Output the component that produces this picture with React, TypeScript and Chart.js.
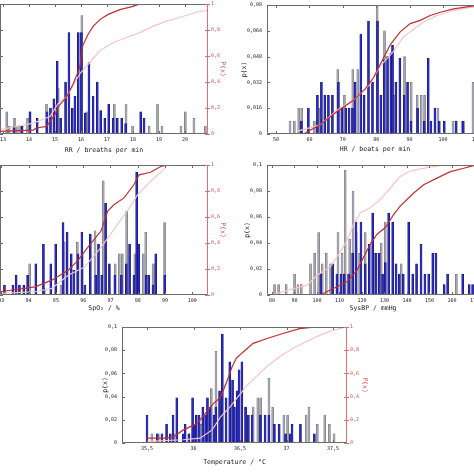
import React, { useEffect, useRef } from 'react';
import { Chart, registerables } from 'chart.js';

Chart.register(...registerables);

type Pt = [number, number];

// ---------- shared ticks ----------
const P_TICKS = [0, 0.2, 0.4, 0.6, 0.8, 1];

// ---------- RR panel ----------
const RR_X_TICKS = [13, 14, 15, 16, 17, 18, 19, 20];
const RR_Y_TICKS = [0, 0.02, 0.04, 0.06, 0.08, 0.1];
const RR_GRAY: Pt[] = [
  [13.1, 0.017], [13.2, 0.006], [13.4, 0.012], [13.5, 0.006], [13.6, 0.006], [13.9, 0.012],
  [14.0, 0.017], [14.63, 0.023], [14.93, 0.023], [15.08, 0.035], [15.99, 0.091], [16.17, 0.017],
  [17.24, 0.023], [17.69, 0.023], [17.94, 0.006], [18.58, 0.006], [18.9, 0.023], [19.07, 0.006],
  [19.8, 0.006], [19.97, 0.017], [20.3, 0.012], [20.74, 0.006],
];
const RR_BLUE: Pt[] = [
  [13.45, 0.006], [13.77, 0.006], [14.07, 0.017], [14.35, 0.012], [14.73, 0.017], [14.86, 0.02],
  [14.99, 0.027], [15.12, 0.056], [15.25, 0.012], [15.44, 0.04], [15.57, 0.078], [15.7, 0.02],
  [15.8, 0.029], [15.93, 0.078], [16.05, 0.078], [16.2, 0.016], [16.34, 0.055], [16.5, 0.029],
  [16.66, 0.04], [16.79, 0.018], [16.95, 0.012], [17.1, 0.023], [17.27, 0.012], [17.43, 0.012],
  [17.6, 0.012], [17.75, 0.008], [18.33, 0.017], [18.46, 0.012],
];
const RR_CDF_BLUE: Pt[] = [
  [12.87, 0.02], [14.16, 0.03], [14.28, 0.046], [14.67, 0.058], [14.8, 0.096], [14.99, 0.147],
  [15.12, 0.21], [15.44, 0.286], [15.57, 0.337], [15.7, 0.387], [15.95, 0.514], [16.06, 0.678],
  [16.27, 0.767], [16.47, 0.83], [16.72, 0.88], [17.04, 0.92], [17.49, 0.957], [18.0, 0.982],
  [18.26, 1.0], [20.9, 1.0],
];
const RR_CDF_GRAY: Pt[] = [
  [12.87, 0.033], [14.16, 0.084], [14.8, 0.134], [15.12, 0.235], [15.44, 0.286], [15.95, 0.463],
  [16.34, 0.552], [16.72, 0.64], [17.24, 0.704], [17.75, 0.742], [18.26, 0.78], [18.78, 0.83],
  [19.29, 0.868], [19.93, 0.906], [20.57, 0.944], [20.88, 0.95],
];

// ---------- HR panel ----------
const HR_X_TICKS = [50, 60, 70, 80, 90, 100, 110];
const HR_Y_TICKS = [0, 0.016, 0.032, 0.048, 0.064, 0.08];
const HR_GRAY: Pt[] = [
  [53.9, 0.008], [55.2, 0.008], [56.5, 0.016], [57.4, 0.016], [61.2, 0.008], [62.5, 0.016],
  [68.2, 0.04], [70.2, 0.024], [72.7, 0.04], [74.2, 0.04], [80.0, 0.08], [82.2, 0.064],
  [85.0, 0.024], [88.2, 0.048], [90.2, 0.032], [92.0, 0.024], [93.2, 0.024], [94.2, 0.024],
  [98.2, 0.016], [102.7, 0.008], [103.7, 0.008], [105.4, 0.008], [108.7, 0.032],
];
const HR_BLUE: Pt[] = [
  [57.9, 0.008], [60.0, 0.016], [62.7, 0.024], [63.9, 0.032], [64.9, 0.024], [66.0, 0.024],
  [67.2, 0.024], [69.0, 0.032], [70.0, 0.016], [71.2, 0.016], [72.2, 0.016], [73.2, 0.016],
  [74.0, 0.032], [75.7, 0.062], [76.7, 0.024], [78.0, 0.07], [79.2, 0.032], [80.7, 0.07],
  [81.7, 0.024], [82.7, 0.046], [83.7, 0.048], [84.7, 0.05], [85.2, 0.055], [86.2, 0.032],
  [87.4, 0.047], [88.7, 0.024], [89.7, 0.032], [90.7, 0.008], [92.7, 0.016], [94.7, 0.008],
  [95.9, 0.047], [96.7, 0.008], [97.9, 0.016], [99.2, 0.008], [100.7, 0.008], [104.2, 0.008],
  [106.4, 0.008],
];
const HR_CDF_BLUE: Pt[] = [
  [58.2, 0], [63.2, 0.071], [68.2, 0.172], [73.2, 0.261], [76.7, 0.349], [79.2, 0.438],
  [81.2, 0.539], [84.2, 0.691], [87.2, 0.792], [90.2, 0.856], [93.2, 0.881], [96.2, 0.919],
  [99.2, 0.944], [103.2, 0.97], [108.2, 0.99], [112, 1.0],
];
const HR_CDF_GRAY: Pt[] = [
  [56.2, 0.02], [63.2, 0.071], [68.2, 0.185], [73.2, 0.261], [78.2, 0.387], [81.2, 0.527],
  [85.2, 0.64], [88.2, 0.754], [90.2, 0.792], [94.2, 0.868], [98.2, 0.919], [103.2, 0.957],
  [108.2, 0.982], [112, 0.99],
];

// ---------- SpO2 panel ----------
const SPO2_X_TICKS = [93, 94, 95, 96, 97, 98, 99, 100];
const SPO2_Y_TICKS = [0, 0.1, 0.2, 0.3, 0.4, 0.5];
const SPO2_GRAY: Pt[] = [
  [94.0, 0.12], [94.54, 0.025], [95.15, 0.038], [95.27, 0.203], [95.75, 0.203], [95.93, 0.158],
  [96.4, 0.247], [96.7, 0.439], [97.14, 0.12], [97.29, 0.158], [97.4, 0.158], [97.56, 0.323],
  [97.86, 0.158], [98.17, 0.158], [98.26, 0.241], [98.53, 0.12], [98.6, 0.12], [98.95, 0.279],
];
const SPO2_BLUE: Pt[] = [
  [93.15, 0.038], [93.46, 0.038], [93.58, 0.076], [93.7, 0.038], [93.86, 0.038], [94.0, 0.076],
  [94.3, 0.12], [94.58, 0.196], [94.85, 0.12], [95.03, 0.196], [95.3, 0.279], [95.45, 0.241],
  [95.6, 0.158], [95.7, 0.095], [95.85, 0.158], [95.99, 0.241], [96.1, 0.038], [96.3, 0.234],
  [96.5, 0.076], [96.6, 0.196], [96.72, 0.076], [96.86, 0.354], [97.0, 0.12], [97.2, 0.076],
  [97.44, 0.076], [97.62, 0.12], [97.74, 0.196], [97.9, 0.076], [98.0, 0.472], [98.08, 0.196],
  [98.35, 0.076], [98.44, 0.076], [98.6, 0.038], [98.7, 0.158], [99.03, 0.076],
];
const SPO2_CDF_BLUE: Pt[] = [
  [92.95, 0.025], [94.24, 0.063], [94.85, 0.114], [95.45, 0.19], [95.81, 0.266], [96.17, 0.367],
  [96.66, 0.494], [96.9, 0.646], [97.14, 0.696], [97.5, 0.747], [97.86, 0.848], [98.05, 0.924],
  [98.47, 0.944], [98.83, 0.987], [99.07, 1.0],
];
const SPO2_CDF_GRAY: Pt[] = [
  [92.95, 0.013], [94.24, 0.025], [94.85, 0.051], [95.45, 0.152], [96.05, 0.215], [96.66, 0.367],
  [97.26, 0.544], [97.62, 0.646], [98.0, 0.772], [98.47, 0.873], [98.95, 0.962], [99.07, 1.0],
];

// ---------- SysBP panel ----------
const SBP_X_TICKS = [80, 90, 100, 110, 120, 130, 140, 150, 160, 170];
const SBP_Y_TICKS = [0, 0.02, 0.04, 0.06, 0.08, 0.1];
const SBP_GRAY: Pt[] = [
  [80.7, 0.008], [82.5, 0.008], [85.9, 0.008], [89.6, 0.016], [91.1, 0.008], [92.6, 0.008],
  [96.7, 0.024], [98.5, 0.032], [100.3, 0.048], [101.9, 0.024], [103.7, 0.032], [105.6, 0.024],
  [108.9, 0.048], [110.7, 0.032], [112.1, 0.096], [114.1, 0.043], [115.6, 0.08], [117.0, 0.048],
  [118.5, 0.032], [121.0, 0.048], [125.5, 0.032], [128.1, 0.04], [129.9, 0.056], [137.0, 0.024],
  [161.5, 0.016],
];
const SBP_BLUE: Pt[] = [
  [102.2, 0.016], [107.4, 0.024], [109.3, 0.016], [111.1, 0.016], [112.6, 0.016], [114.5, 0.016],
  [116.3, 0.032], [117.8, 0.056], [120.0, 0.056], [121.9, 0.024], [123.7, 0.039], [125.2, 0.063],
  [126.7, 0.032], [128.1, 0.032], [129.6, 0.016], [130.8, 0.025], [132.3, 0.063], [134.1, 0.056],
  [135.6, 0.024], [137.0, 0.016], [138.8, 0.016], [141.2, 0.056], [143.0, 0.016], [144.7, 0.024],
  [146.7, 0.039], [148.4, 0.016], [150.1, 0.016], [151.9, 0.032], [153.3, 0.032], [157.0, 0.008],
  [158.5, 0.016], [165.2, 0.016], [168.1, 0.008], [169.6, 0.008],
];
const SBP_CDF_BLUE: Pt[] = [
  [101.5, 0], [105.9, 0.038], [108.9, 0.063], [113.3, 0.101], [117.8, 0.19], [120.7, 0.291],
  [123.7, 0.392], [126.7, 0.468], [130.4, 0.519], [134.1, 0.62], [137.0, 0.684], [143.0, 0.785],
  [147.4, 0.848], [153.3, 0.899], [159.3, 0.949], [165.2, 0.975], [169.6, 0.995], [172, 1.0],
];
const SBP_CDF_GRAY: Pt[] = [
  [80.7, 0.005], [92.6, 0.063], [95.6, 0.076], [100.0, 0.152], [105.9, 0.215], [108.9, 0.291],
  [113.3, 0.418], [116.3, 0.544], [119.3, 0.633], [123.7, 0.671], [128.1, 0.734], [132.6, 0.823],
  [137.0, 0.911], [141.5, 0.954], [148.9, 0.98], [156.3, 1.0], [172, 1.0],
];

// ---------- Temperature panel ----------
const TEMP_X_TICKS = [35.5, 36, 36.5, 37, 37.5];
const TEMP_Y_TICKS = [0, 0.02, 0.04, 0.06, 0.08, 0.1];
const TEMP_BLUE: Pt[] = [
  [35.51, 0.024], [35.62, 0.008], [35.67, 0.008], [35.72, 0.016], [35.76, 0.008], [35.79, 0.024],
  [35.83, 0.039], [35.9, 0.008], [35.92, 0.016], [35.96, 0.008], [36.0, 0.039], [36.02, 0.016],
  [36.04, 0.024], [36.07, 0.024], [36.11, 0.031], [36.14, 0.024], [36.16, 0.039], [36.19, 0.031],
  [36.23, 0.024], [36.25, 0.031], [36.29, 0.045], [36.32, 0.094], [36.36, 0.039], [36.4, 0.07],
  [36.43, 0.054], [36.45, 0.031], [36.48, 0.045], [36.5, 0.063], [36.53, 0.07], [36.57, 0.031],
  [36.6, 0.024], [36.64, 0.024], [36.73, 0.024], [36.78, 0.024], [36.82, 0.024], [36.88, 0.016],
  [36.93, 0.016], [37.0, 0.008], [37.05, 0.008], [37.07, 0.016], [37.16, 0.016], [37.31, 0.008],
];
const TEMP_GRAY: Pt[] = [
  [35.54, 0.008], [35.61, 0.008], [35.78, 0.008], [35.94, 0.008], [36.07, 0.016], [36.18, 0.047],
  [36.23, 0.079], [36.28, 0.031], [36.38, 0.039], [36.46, 0.039], [36.55, 0.031], [36.63, 0.031],
  [36.68, 0.039], [36.71, 0.039], [36.8, 0.056], [36.84, 0.031], [36.91, 0.016], [36.96, 0.024],
  [37.0, 0.024], [37.2, 0.024], [37.23, 0.031], [37.32, 0.016], [37.4, 0.024], [37.45, 0.016],
  [37.5, 0.008],
];
const TEMP_CDF_BLUE: Pt[] = [
  [35.5, 0.042], [35.71, 0.042], [35.79, 0.056], [35.89, 0.113], [36.04, 0.169], [36.14, 0.268],
  [36.21, 0.338], [36.29, 0.394], [36.36, 0.535], [36.41, 0.648], [36.46, 0.732], [36.54, 0.789],
  [36.64, 0.859], [36.79, 0.901], [36.96, 0.944], [37.14, 0.986], [37.32, 1.0],
];
const TEMP_CDF_GRAY: Pt[] = [
  [35.5, 0.014], [35.89, 0.028], [36.07, 0.042], [36.2, 0.113], [36.29, 0.225], [36.39, 0.31],
  [36.46, 0.38], [36.57, 0.493], [36.68, 0.577], [36.79, 0.662], [36.93, 0.746], [37.07, 0.817],
  [37.21, 0.873], [37.36, 0.93], [37.5, 0.972], [37.6, 0.99],
];

// ---------- rendering ----------
const MONO = '"DejaVu Sans Mono", "Liberation Mono", monospace';
const RED = '#c42e2e';
const RED_TXT = '#d84c4c';

const fmt = (v: number) => String(v).replace('.', ',');

const framePlugin = {
  id: 'gnuFrame',
  afterDraw(chart: any) {
    const { ctx, chartArea: a, scales } = chart;
    const L = a.left, R = a.right, T = a.top, B = a.bottom;
    ctx.save();
    ctx.lineWidth = 1;
    ctx.strokeStyle = '#6c6c6c';
    ctx.beginPath();
    ctx.moveTo(R, T + 0.5); ctx.lineTo(L + 0.5, T + 0.5); ctx.lineTo(L + 0.5, B - 0.5); ctx.lineTo(R, B - 0.5);
    scales.x.ticks.forEach((t: any) => {
      const px = Math.round(scales.x.getPixelForValue(t.value)) + 0.5;
      ctx.moveTo(px, B); ctx.lineTo(px, B - 3);
      ctx.moveTo(px, T); ctx.lineTo(px, T + 3);
    });
    scales.y.ticks.forEach((t: any) => {
      const py = Math.round(scales.y.getPixelForValue(t.value)) + 0.5;
      ctx.moveTo(L, py); ctx.lineTo(L + 3, py);
    });
    ctx.stroke();
    ctx.strokeStyle = '#e07070';
    ctx.beginPath();
    ctx.moveTo(R - 0.5, T); ctx.lineTo(R - 0.5, B);
    scales.y2.ticks.forEach((t: any) => {
      const py = Math.round(scales.y2.getPixelForValue(t.value)) + 0.5;
      ctx.moveTo(R - 3, py); ctx.lineTo(R + 2, py);
    });
    ctx.stroke();
    ctx.restore();
  },
};

interface PanelProps {
  area: { left: number; top: number; right: number; bottom: number };
  L: number; R: number; B: number;
  xMin: number; xMax: number; yMax: number;
  xTicks: number[]; yTicks: number[];
  xTitle: string;
  gray: Pt[]; blue: Pt[]; cdfBlue: Pt[]; cdfGray: Pt[];
}

function Panel(p: PanelProps) {
  const ref = useRef<HTMLCanvasElement>(null);
  const padTop = 6;
  const W = p.L + (p.area.right - p.area.left) + p.R;
  const H = padTop + (p.area.bottom - p.area.top) + p.B;
  useEffect(() => {
    const toXY = (arr: Pt[]) => arr.map(([x, y]) => ({ x, y }));
    const chart = new Chart(ref.current as HTMLCanvasElement, {
      type: 'bar',
      data: {
        datasets: [
          { type: 'line', data: toXY(p.cdfBlue), yAxisID: 'y2', borderColor: RED, borderWidth: 1.2, pointRadius: 0, tension: 0 } as any,
          { type: 'line', data: toXY(p.cdfGray), yAxisID: 'y2', borderColor: '#f4c6c6', borderWidth: 1.2, pointRadius: 0, tension: 0 } as any,
          { type: 'bar', data: toXY(p.blue), yAxisID: 'y', backgroundColor: '#2a2ac4', borderColor: '#10105e', borderWidth: 0.5, barThickness: 2 } as any,
          { type: 'bar', data: toXY(p.gray), yAxisID: 'y', backgroundColor: '#a6a6b0', borderColor: '#696973', borderWidth: 0.5, barThickness: 2 } as any,
        ],
      },
      options: {
        responsive: false,
        animation: false,
        devicePixelRatio: 1,
        layout: { padding: { top: padTop, left: 0, right: 0, bottom: 0 } },
        plugins: { legend: { display: false }, tooltip: { enabled: false } },
        scales: {
          x: {
            type: 'linear', min: p.xMin, max: p.xMax, offset: false,
            grid: { display: false, drawTicks: false }, border: { display: false },
            afterBuildTicks: (s: any) => { s.ticks = p.xTicks.map((v) => ({ value: v })); },
            afterFit: (s: any) => { s.height = p.B; },
            ticks: { padding: 3, autoSkip: false, maxRotation: 0, color: '#222', font: { family: MONO, size: 5 }, callback: (v: any) => fmt(Number(v)) },
            title: { display: true, text: p.xTitle, color: '#222', font: { family: MONO, size: 6.5 }, padding: { top: 4, bottom: 4 } },
          },
          y: {
            type: 'linear', position: 'left', min: 0, max: p.yMax,
            grid: { display: false, drawTicks: false }, border: { display: false },
            afterBuildTicks: (s: any) => { s.ticks = p.yTicks.map((v) => ({ value: v })); },
            afterFit: (s: any) => { s.width = p.L; },
            ticks: { padding: 5, color: '#222', font: { family: MONO, size: 5 }, callback: (v: any) => fmt(Number(v)) },
            title: { display: true, text: 'p(x)', color: '#222', font: { family: MONO, size: 6.5 }, padding: { top: 4, bottom: 4 } },
          },
          y2: {
            type: 'linear', position: 'right', min: 0, max: 1,
            grid: { display: false, drawTicks: false }, border: { display: false },
            afterBuildTicks: (s: any) => { s.ticks = P_TICKS.map((v) => ({ value: v })); },
            afterFit: (s: any) => { s.width = p.R; },
            ticks: { padding: 3, color: RED_TXT, font: { family: MONO, size: 5 }, callback: (v: any) => fmt(Number(v)) },
            title: { display: true, text: 'P(x)', color: RED_TXT, font: { family: MONO, size: 6.5 }, padding: { top: 4, bottom: 4 } },
          },
        },
      } as any,
      plugins: [framePlugin],
    });
    return () => chart.destroy();
  }, []);
  return (
    <canvas
      ref={ref}
      width={W}
      height={H}
      style={{ position: 'absolute', left: p.area.left - p.L, top: p.area.top - padTop, width: W, height: H }}
    />
  );
}

export default function App() {
  return (
    <div style={{ position: 'fixed', left: 0, top: 0, width: 474, height: 474, overflow: 'hidden', background: '#fff' }}>
      <Panel area={{ left: 0, top: 2, right: 208, bottom: 134 }} L={30} R={23} B={24}
        xMin={12.88} xMax={20.88} yMax={0.1} xTicks={RR_X_TICKS} yTicks={RR_Y_TICKS}
        xTitle="RR / breaths per min" gray={RR_GRAY} blue={RR_BLUE} cdfBlue={RR_CDF_BLUE} cdfGray={RR_CDF_GRAY} />
      <Panel area={{ left: 267, top: 3, right: 483, bottom: 134 }} L={31} R={23} B={23}
        xMin={47.3} xMax={112} yMax={0.08} xTicks={HR_X_TICKS} yTicks={HR_Y_TICKS}
        xTitle="HR / beats per min" gray={HR_GRAY} blue={HR_BLUE} cdfBlue={HR_CDF_BLUE} cdfGray={HR_CDF_GRAY} />
      <Panel area={{ left: 0, top: 163, right: 208, bottom: 295 }} L={30} R={23} B={21}
        xMin={92.95} xMax={100.58} yMax={0.5} xTicks={SPO2_X_TICKS} yTicks={SPO2_Y_TICKS}
        xTitle="SpO₂ / %" gray={SPO2_GRAY} blue={SPO2_BLUE} cdfBlue={SPO2_CDF_BLUE} cdfGray={SPO2_CDF_GRAY} />
      <Panel area={{ left: 267, top: 163, right: 479, bottom: 295 }} L={28} R={23} B={21}
        xMin={77.8} xMax={172} yMax={0.1} xTicks={SBP_X_TICKS} yTicks={SBP_Y_TICKS}
        xTitle="SysBP / mmHg" gray={SBP_GRAY} blue={SBP_BLUE} cdfBlue={SBP_CDF_BLUE} cdfGray={SBP_CDF_GRAY} />
      <Panel area={{ left: 122, top: 325, right: 347, bottom: 443 }} L={25} R={26} B={27}
        xMin={35.23} xMax={37.65} yMax={0.1} xTicks={TEMP_X_TICKS} yTicks={TEMP_Y_TICKS}
        xTitle="Temperature / °C" gray={TEMP_GRAY} blue={TEMP_BLUE} cdfBlue={TEMP_CDF_BLUE} cdfGray={TEMP_CDF_GRAY} />
    </div>
  );
}
